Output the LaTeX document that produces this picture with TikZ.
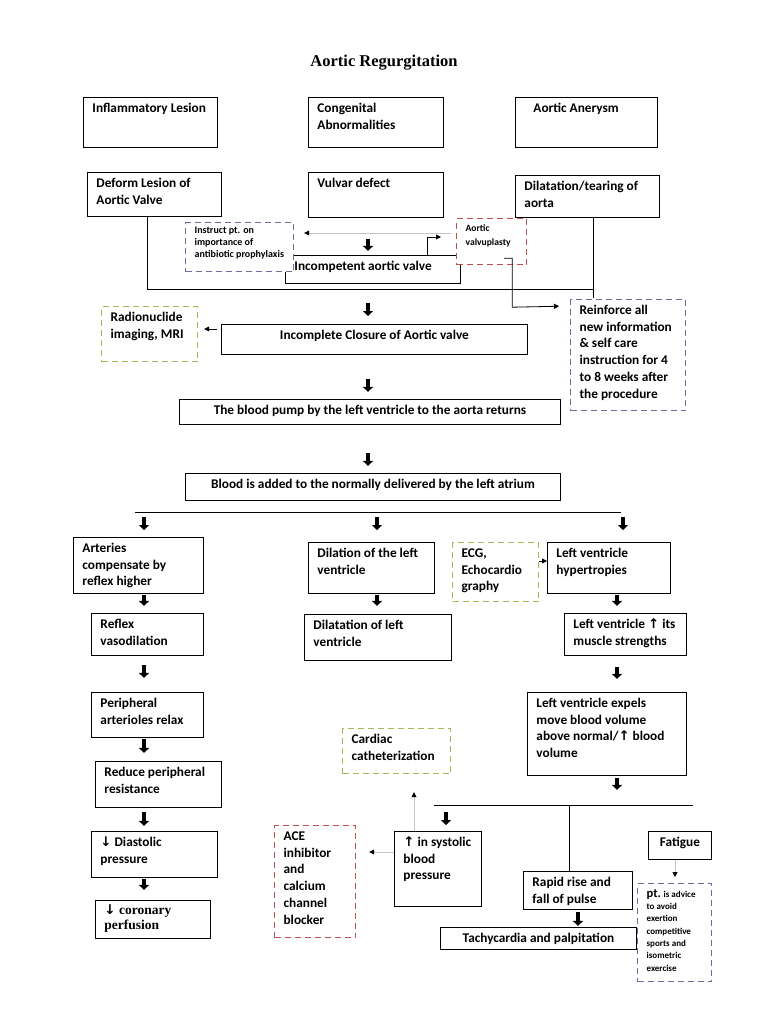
\documentclass[tikz,border=0pt]{standalone}
\usepackage{fontspec}
\setmainfont{Carlito}
\newfontfamily\titlef{Liberation Serif}
\newfontfamily\arrf{DejaVu Sans}
\usetikzlibrary{arrows.meta}

\definecolor{opurple}{HTML}{8064A2}
\definecolor{ored}{HTML}{C0504D}
\definecolor{ogreen}{HTML}{9BBB59}

% box text: outer width, outer height, text
\newcommand{\bx}[3]{\parbox[c][\dimexpr#2pt-6pt\relax][t]{\dimexpr#1pt-18pt\relax}{\begin{tabular}{@{}l@{}}#3\end{tabular}}}
\newcommand{\cbx}[3]{\parbox[c][\dimexpr#2pt-6pt\relax][t]{\dimexpr#1pt-18pt\relax}{\centering\begin{tabular}{@{}c@{}}#3\end{tabular}}}
\newcommand{\upa}{{\arrf\char"2191}}
\newcommand{\dna}{{\arrf\char"2193}}

\begin{document}
\begin{tikzpicture}[x=1pt,y=-1pt,
  blk/.style={draw, line width=0.9pt, anchor=north west, inner xsep=9pt, inner ysep=3pt, fill=white,
    font={\bfseries\fontsize{13.3}{16.8}\selectfont}},
  purp/.style={blk, draw=opurple, line width=1.2pt, dash pattern=on 6pt off 4pt},
  redb/.style={blk, draw=ored, line width=1.2pt, dash pattern=on 6pt off 4pt},
  grnb/.style={blk, draw=ogreen, line width=1.2pt, dash pattern=on 6pt off 4pt},
  small/.style={font={\bfseries\fontsize{10}{11.7}\selectfont}},
  line/.style={line width=0.9pt},
  fat/.style={line width=3.2pt, -{Triangle[width=10pt,length=5pt]}},
  sarr/.style={line width=0.8pt, -{Triangle[width=5pt,length=5pt]}},
  garr/.style={line width=0.8pt, gray!45, -{Triangle[width=5pt,length=5pt,color=black]}}]
\useasboundingbox (0,0) rectangle (768,1024);

\node (title) at (384,63) {\titlef\bfseries\fontsize{16.5}{18}\selectfont Aortic Regurgitation};

% causes
\node[blk] (inflam) at (83,97) {\bx{134}{50}{Inflammatory Lesion}};
\node[blk] (congen) at (308,97) {\bx{135}{50}{Congenital\\Abnormalities}};
\node[blk] (aneur) at (515,97) {\bx{142}{50}{\hspace*{9pt}Aortic Anerysm}};

\node[blk] (deform) at (87,172) {\bx{134}{44}{Deform Lesion of\\Aortic Valve}};
\node[blk] (vulvar) at (308,172) {\bx{135}{45}{Vulvar defect}};
\node[blk] (dilat) at (515,175) {\bx{144}{42}{Dilatation/tearing of\\aorta}};

\node[blk] (incomp) at (285,255) {\bx{175}{28}{Incompetent aortic valve}};
\node[purp, small] (instr) at (185,222) {\bx{108}{49}{Instruct pt. on\\importance of\\antibiotic prophylaxis}};
\node[redb, font={\bfseries\fontsize{9.6}{14}\selectfont}] (valvu) at (456,218) {\bx{70}{46}{Aortic\\valvuplasty}};

% bracket
\coordinate (brk) at (593,289);
\draw[line] ([xshift=-7pt]deform.south) |- (brk);
\draw[line] (dilat.south -| brk) -- ++(0,80);

\draw[garr, shorten <=5pt, shorten >=10pt] (valvu.west |- 0,233) -- (instr.east |- 0,233);
\draw[sarr, shorten >=15pt] ([xshift=-34pt]incomp.north east) |- (valvu.west |- 0,237);
\draw[fat] (vulvar.south -| 368,0) ++(0,21) -- ++(0,12);

% main chain
\node[grnb] (radio) at (101,306) {\bx{96}{55}{Radionuclide\\imaging, MRI}};
\node[blk] (incl) at (221,324) {\cbx{306}{30}{Incomplete Closure of Aortic valve}};
\node[purp] (reinf) at (570,299) {\bx{115}{111}{Reinforce all\\new information\\\& self care\\instruction for 4\\to 8 weeks after\\the procedure}};
\node[blk] (pump) at (179,399) {\cbx{381}{25}{The blood pump by the left ventricle to the aorta returns}};
\node[blk] (added) at (185,473) {\cbx{375}{27}{Blood is added to the normally delivered by the left atrium}};

\draw[fat] (brk -| 368,0) ++(0,14) -- ++(0,13);
\draw[sarr, shorten <=4pt, shorten >=6pt] (incl.west |- 0,329) -- (radio.east |- 0,329);
\draw[sarr, shorten >=11pt] ([shift={(-23,-7)}]valvu.south east) -| ++(8,49) -- (reinf.west |- 0,306);
\draw[fat] (incl.south -| 368,0) ++(0,24) -- ++(0,13);
\draw[fat] (pump.south -| 368,0) ++(0,28) -- ++(0,13);

% split
\coordinate (spl) at (135,512);
\coordinate (spr) at (621,512);
\draw[line] (spl) -- (spr);
\draw[fat] (spl -| 144,0) ++(0,5) -- ++(0,13);
\draw[fat] (spl -| 377,0) ++(0,5) -- ++(0,13);
\draw[fat] (spl -| 623,0) ++(0,5) -- ++(0,13);

% left column
\node[blk] (arter) at (73,537) {\bx{130}{56}{Arteries\\compensate by\\reflex higher}};
\node[blk] (reflex) at (91,613) {\bx{112}{42}{Reflex\\vasodilation}};
\node[blk] (periph) at (91,692) {\bx{112}{45}{Peripheral\\arterioles relax}};
\node[blk] (reduce) at (95,761) {\bx{126}{46}{Reduce peripheral\\resistance}};
\node[blk] (diast) at (91,831) {\bx{126}{46}{\dna\ Diastolic\\pressure}};
\node[blk, font={\titlef\bfseries\fontsize{13.5}{15.5}\selectfont}] (coron) at (95,900) {\bx{115}{38}{\dna\ coronary\\perfusion}};
\draw[fat] (arter.south -| 144,0) ++(0,1) -- ++(0,11);
\draw[fat] (reflex.south -| 144,0) ++(0,9) -- ++(0,13);
\draw[fat] (periph.south -| 144,0) ++(0,1) -- ++(0,14);
\draw[fat] (reduce.south -| 144,0) ++(0,4) -- ++(0,14);
\draw[fat] (diast.south -| 144,0) ++(0,1) -- ++(0,11);

% middle column
\node[blk] (dilatn) at (308,542) {\bx{126}{51}{Dilation of the left\\ventricle}};
\node[blk] (dilatl) at (304,614) {\bx{147}{46}{Dilatation of left\\ventricle}};
\draw[fat] (dilatn.south -| 377,0) ++(0,1) -- ++(0,11);
\node[grnb] (cardiac) at (342,728) {\bx{108}{45}{Cardiac\\catheterization}};

% right column
\node[grnb] (ecg) at (452,542) {\bx{86}{59}{ECG,\\Echocardio\\graphy}};
\node[blk] (lvh) at (547,542) {\bx{123}{51}{Left ventricle\\hypertropies}};
\node[blk] (lvm) at (564,613) {\bx{122}{42}{Left ventricle \upa\ its\\muscle strengths}};
\node[blk] (lve) at (527,692) {\bx{159}{83}{Left ventricle expels\\move blood volume\\above normal/\upa\ blood\\volume}};
\draw[sarr] (ecg.east |- 0,561) -- (lvh.west |- 0,561);
\draw[fat] (lvh.south -| 617,0) ++(0,1) -- ++(0,11);
\draw[fat] (lvm.south -| 617,0) ++(0,11) -- ++(0,12);
\draw[fat] (lve.south -| 617,0) ++(0,2) -- ++(0,12);

% lower split
\coordinate (sl) at (434,805);
\coordinate (sr) at (693,805);
\draw[line] (sl) -- (sr);
\node[blk] (syst) at (394,831) {\bx{87}{75}{\upa\ in systolic\\blood\\pressure}};
\node[redb] (ace) at (274,825) {\bx{81}{112}{ACE\\inhibitor\\and\\calcium\\channel\\blocker}};
\node[blk] (rapid) at (523,871) {\bx{109}{38}{Rapid rise and\\fall of pulse}};
\node[blk] (tachy) at (440,927) {\cbx{196}{22}{Tachycardia and palpitation}};
\node[blk] (fatigue) at (648,831) {\cbx{63}{28}{Fatigue}};
\node[purp, font={\bfseries\fontsize{9}{12.3}\selectfont}, inner xsep=9pt, inner ysep=5pt] (pt) at (637,883) {\parbox[c][88pt][t]{56pt}{\begin{tabular}{@{}l@{}}{\fontsize{12.5}{12.3}\selectfont pt.} is advice\\to avoid\\exertion\\competitive\\sports and\\isometric\\exercise\end{tabular}}};

\draw[fat] (sl -| 446,0) ++(0,7) -- ++(0,13);
\draw[line] (sl -| 569,0) -- (rapid.north -| 569,0);
\draw[fat] (rapid.south -| 578,0) ++(0,2) -- ++(0,14);
\draw[garr, shorten >=18pt] (syst.north -| 414,0) -- (cardiac.south -| 414,0);
\draw[garr, shorten >=13pt] (syst.west |- 0,852) -- (ace.east |- 0,852);
\draw[garr, shorten >=6pt] (fatigue.south -| 675,0) -- (pt.north -| 675,0);
\end{tikzpicture}
\end{document}
